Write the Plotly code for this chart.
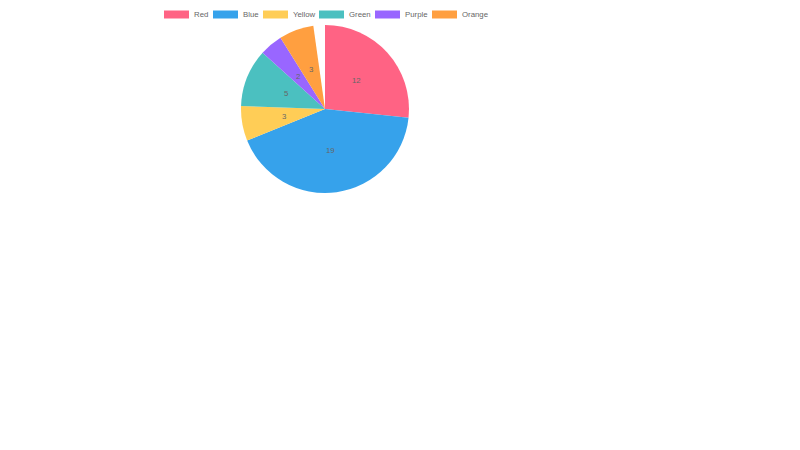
import math
import plotly.graph_objects as go

# ---- data ----
labels = ["Red", "Blue", "Yellow", "Green", "Purple", "Orange"]
values = [12, 19, 3, 5, 2, 3]
colors = ["rgb(255,99,132)", "rgb(54,162,235)", "rgb(255,205,86)",
          "rgb(75,192,192)", "rgb(153,102,255)", "rgb(255,159,64)"]
gap_value = 1  # unfilled wedge between Orange and Red

# ---- layout constants ----
W, H = 800, 450
OFF = 8  # page body margin compensation
cx_px, cy_px, r_px = 325 - OFF, 109 - OFF, 84
legend_box_x = [164 - OFF, 213 - OFF, 263 - OFF, 319 - OFF, 375 - OFF, 432 - OFF]
legend_box_w, legend_box_h = 25, 8
legend_y_px = 14.5 - OFF
font_family = "Liberation Sans, Arial, Helvetica, sans-serif"
text_color = "#666666"
fsize = 7.8

all_values = values + [gap_value]
all_colors = colors + ["rgba(0,0,0,0)"]

fig = go.Figure()
fig.add_trace(go.Pie(
    labels=labels + [""],
    values=all_values,
    marker=dict(colors=all_colors, line=dict(width=0)),
    sort=False,
    direction="clockwise",
    rotation=0,
    textinfo="none",
    hoverinfo="skip",
    showlegend=False,
    domain=dict(x=[(cx_px - r_px) / W, (cx_px + r_px) / W],
                y=[1 - (cy_px + r_px) / H, 1 - (cy_px - r_px) / H]),
))

shapes = []
annotations = []

# value labels at the middle of each arc (half radius)
total = sum(all_values)
acc = 0
for lab, v in zip(labels, values):
    mid = (acc + v / 2) / total * 2 * math.pi
    acc += v
    x = cx_px + 0.5 * r_px * math.sin(mid)
    y = cy_px - 0.5 * r_px * math.cos(mid)
    annotations.append(dict(x=x / W, y=1 - y / H, xref="paper", yref="paper",
                            text=str(v), showarrow=False,
                            font=dict(size=fsize, color=text_color, family=font_family),
                            xanchor="center", yanchor="middle"))

# custom legend
for lab, col, bx in zip(labels, colors, legend_box_x):
    shapes.append(dict(type="rect", xref="paper", yref="paper",
                       x0=bx / W, x1=(bx + legend_box_w) / W,
                       y0=1 - (legend_y_px + legend_box_h / 2) / H,
                       y1=1 - (legend_y_px - legend_box_h / 2) / H,
                       fillcolor=col, line=dict(width=0)))
    annotations.append(dict(x=(bx + legend_box_w + 3) / W, y=1 - legend_y_px / H,
                            xref="paper", yref="paper", text=lab, showarrow=False,
                            xanchor="left", yanchor="middle",
                            font=dict(size=fsize, color=text_color, family=font_family)))

fig.update_layout(
    width=W, height=H,
    margin=dict(l=0, r=0, t=0, b=0),
    paper_bgcolor="white", plot_bgcolor="white",
    shapes=shapes, annotations=annotations,
    font=dict(family=font_family, color=text_color),
)

fig.write_html("out.html")
